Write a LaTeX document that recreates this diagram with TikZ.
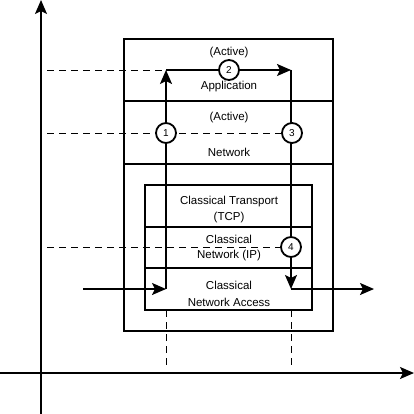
\documentclass[tikz,border=0pt]{standalone}
\usepackage{fontspec}
\setmainfont{Liberation Sans}
\usetikzlibrary{arrows.meta,backgrounds}
\begin{document}
\begin{tikzpicture}[x=1pt,y=-1pt,
  layerbox/.style={draw,line width=1.8pt,inner sep=0pt,outer sep=0pt,anchor=north west},
  lbl/.style={font=\fontsize{11.5}{13}\selectfont,inner sep=0pt},
  num/.style={circle,draw,fill=white,line width=1.8pt,minimum size=20pt,inner sep=0pt,font=\fontsize{10}{11}\selectfont},
  flow/.style={line width=1.8pt,-{Stealth[length=14pt,width=12pt,inset=3pt]}},
  axis/.style={line width=1.8pt,-{Stealth[length=14pt,width=12pt,inset=3pt]}},
  guide/.style={line width=0.9pt,dash pattern=on 7pt off 5pt}]
\useasboundingbox (0,0) rectangle (414,414);
% boxes
\node[layerbox,minimum width=209pt,minimum height=62pt] (app) at (124,39) {};
\node[layerbox,minimum width=209pt,minimum height=63pt] (net) at (124,101) {};
\node[layerbox,minimum width=209pt,minimum height=167pt] (low) at (124,164) {};
\node[layerbox,minimum width=167pt,minimum height=42pt] (tcp) at (145,185) {};
\node[layerbox,minimum width=167pt,minimum height=41pt] (ip) at (145,227) {};
\node[layerbox,minimum width=167pt,minimum height=42pt] (acc) at (145,268) {};
% labels
\node[lbl] (t1) at (229,53) {(Active)};
\node[lbl] (t2) at (229,87) {Application};
\node[lbl] (t3) at (229,118) {(Active)};
\node[lbl] (t4) at (229,152) {Network};
\node[lbl] (t5) at (229,202) {Classical Transport};
\node[lbl] (t6) at (229,218) {(TCP)};
\node[lbl] (t7) at (229,239) {Classical};
\node[lbl] (t8) at (229,256) {Network (IP)};
\node[lbl] (t9) at (229,285) {Classical};
\node[lbl] (t10) at (229,302) {Network Access};
% numbered circles
\node[num] (c1) at (166,133) {1};
\node[num] (c2) at (229,70) {2};
\node[num] (c3) at (292,133) {3};
\node[num] (c4) at (291,247) {4};
% coordinates
\coordinate (in) at (83,289);
\coordinate (p1) at (166,289);
\coordinate (p2) at (166,70);
\coordinate (p3) at (291,70);
\coordinate (p4) at (291,289);
\coordinate (out) at (374,289);
\coordinate (d2) at (47,70);
\coordinate (d1) at (47,133);
\coordinate (d4) at (47,247);
\coordinate (v1a) at (166,310);
\coordinate (v1b) at (166,367);
\coordinate (v2a) at (291,310);
\coordinate (v2b) at (291,367);
\coordinate (yo) at (41,414);
\coordinate (yt) at (41,0);
\coordinate (xo) at (0,373);
\coordinate (xt) at (414,373);
\begin{pgfonlayer}{background}
\draw[axis] (yo) -- (yt);
\draw[axis] (xo) -- (xt);
\draw[guide] (d2) -- (p2);
\draw[guide] (d1) -- (c3.west);
\draw[guide] (d4) -- (c4.west);
\draw[guide] (v1a) -- (v1b);
\draw[guide] (v2a) -- (v2b);
\draw[flow] (in) -- (p1);
\draw[flow] (p1) -- (p2);
\draw[flow] (p2) -- (p3);
\draw[flow] (p3) -- (p4);
\draw[flow] (p4) -- (out);
\end{pgfonlayer}
\end{tikzpicture}
\end{document}
